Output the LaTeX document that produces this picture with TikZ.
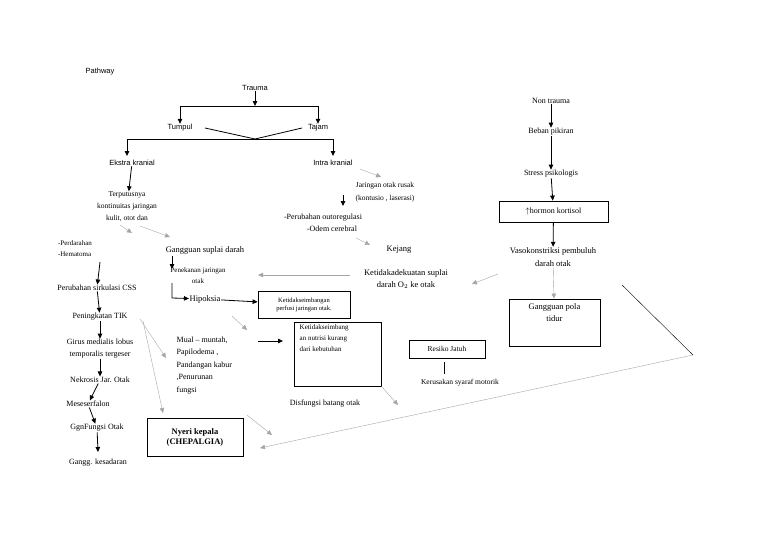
\documentclass[tikz,border=0pt]{standalone}
\usepackage{fontspec}
\setmainfont{Liberation Serif}
\newfontfamily\sansf{Liberation Sans}
\usetikzlibrary{arrows.meta}
\begin{document}
\begin{tikzpicture}[x=1pt,y=-1pt,
  t/.style={inner sep=0.5pt,font=\fontsize{8}{10}\selectfont,align=center},
  s/.style={inner sep=0.5pt,font=\sansf\fontsize{7.5}{9}\selectfont,align=center},
  bx/.style={draw,thick,inner sep=2pt,font=\fontsize{7.5}{9}\selectfont,align=center},
  a/.style={-{Triangle[length=5pt,width=4.5pt]},thick},
  g/.style={-{Triangle[length=5pt,width=4.5pt]},gray!70},
  l/.style={thick}]
\useasboundingbox (0,0) rectangle (768,543);
\node[s] (pw) at (100,72) {Pathway};
\node[s] (tr) at (255,88) {Trauma};
\coordinate (tb) at (255,106);
\draw[a] (tr) -- (tb);
\draw[l] (180,106) coordinate (h1) -- (318,106) coordinate (h2);
\node[s] (tu) at (180,128) {Tumpul};
\node[s] (ta) at (318,128) {Tajam};
\draw[a] (h1) -- (tu); \draw[a] (h2) -- (ta);
\coordinate (v) at (255,139);
\draw[l] (205,128) -- (v) -- (302,128);
\draw[l] (127,139) coordinate (h3) -- (333,139) coordinate (h4);
\node[s] (ek) at (132,163) {Ekstra kranial};
\node[s] (ik) at (333,163) {Intra kranial};
\draw[a] (h3) -- (127,156); \draw[a] (h4) -- (333,156);
\node[t,font=\fontsize{7.5}{12}\selectfont] (tp) at (127,207) {Terputusnya\\kontinuitas jaringan\\kulit, otot dan};
\draw[a] (ek) -- (tp);
\node[t,font=\fontsize{7}{11}\selectfont,align=left] (pd) at (75,249) {-Perdarahan\\-Hematoma};
\node[t,font=\fontsize{8.5}{10}\selectfont] (gs) at (205,250) {Gangguan suplai darah};
\draw[g] (120,225) -- (132,233);
\draw[g] (140,226) -- (170,237);
\node[t,font=\fontsize{7}{11}\selectfont] (pj) at (198,276) {Penekanan jaringan\\otak};
\draw[a] (172,256) -- (172,269);
\node[t] (ps) at (97,288) {Perubahan sirkulasi CSS};
\draw[a] (100,262) -- (ps);
\node[t] (ptik) at (100,317) {Peningkatan TIK};
\draw[a] (ps) -- (ptik);
\node[t,font=\fontsize{8}{12}\selectfont] (gm) at (100,349) {Girus medialis lobus\\temporalis tergeser};
\draw[a] (ptik) -- (gm);
\node[t] (nk) at (100,380) {Nekrosis Jar. Otak};
\draw[a] (gm) -- (nk);
\node[t] (ms) at (88,404) {Meseserfalon};
\draw[a] (nk) -- (ms);
\node[t] (gf) at (97,428) {GgnFungsi Otak};
\draw[a] (ms) -- (gf);
\node[t] (gk) at (98,463) {Gangg. kesadaran};
\draw[a] (gf) -- (98,452);
\node[t,font=\fontsize{8.5}{10}\selectfont] (hp) at (205,299) {Hipoksia};
\draw[a] (172,283) -- (172,298) -- (hp);
\node[bx,minimum width=92pt,minimum height=27pt,font=\fontsize{6.5}{8}\selectfont] (kp) at (304,304.5) {Ketidakseimbangan\\perfusi jaringan otak.};
\draw[a] (hp) -- (kp);
\node[t,align=left,anchor=north west,font=\fontsize{8}{12.5}\selectfont] (mu) at (176,336) {Mual -- muntah,\\Papilodema ,\\Pandangan kabur\\,Penurunan\\fungsi};
\draw[g] (232,316) -- (247,330);
\node[bx,minimum width=87pt,minimum height=64pt] (kn) at (337.5,354) {};
\node[t,font=\fontsize{7}{11}\selectfont,align=left,anchor=north west] (knt) at (299,324) {Ketidakseimbang\\an nutrisi kurang\\dari kebutuhan};
\draw[a] (258,341) -- (283,341);
\draw[g] (140,319) -- (166,358);
\draw[g] (143,321) -- (163,413);
\node[bx,minimum width=96pt,minimum height=38pt,font=\bfseries\fontsize{8.5}{10}\selectfont] (ny) at (195,437) {Nyeri kepala\\(CHEPALGIA)};
\draw[g] (247,415) -- (272,435);
\node[t] (db) at (325,404) {Disfungsi batang otak};
\draw[g] (kn.south east) -- (398,405);
\draw[g] (360,169) -- (381,177);
\node[t,font=\fontsize{7.5}{13}\selectfont] (jo) at (385,192) {Jaringan otak rusak\\(kontusio , laserasi)};
\draw[a] (343,195) -- (343,206);
\node[t,font=\fontsize{8}{11.5}\selectfont] (po) at (323,223) {-Perubahan outoregulasi\\\hspace*{18pt}-Odem cerebral};
\draw[g] (356,238) -- (370,245);
\node[t,font=\fontsize{8.5}{10}\selectfont] (kj) at (399,250) {Kejang};
\node[t,font=\fontsize{8.5}{12.5}\selectfont] (kd) at (406,279) {Ketidakadekuatan suplai\\darah O$_2$ ke otak};
\draw[g] (350,275) -- (258,275);
\node[t] (nt) at (551,101) {Non trauma};
\node[t] (bp) at (551,132) {Beban pikiran};
\node[t] (sp) at (551,174) {Stress psikologis};
\node[bx,minimum width=109pt,minimum height=21pt,font=\fontsize{8}{10}\selectfont] (hk) at (553.5,211.5) {$\uparrow$hormon kortisol};
\node[t,font=\fontsize{8.5}{13}\selectfont] (vk) at (553,257) {Vasokonstriksi pembuluh\\darah otak};
\node[bx,minimum width=91pt,minimum height=47pt] (gp) at (554.5,322.5) {};
\node[t,font=\fontsize{8.5}{12}\selectfont] (gpt) at (554.5,313) {Gangguan pola\\tidur};
\draw[a] (nt) -- (bp); \draw[a] (bp) -- (sp); \draw[a] (sp) -- (hk); \draw[a] (hk) -- (vk);
\draw[g] (vk) -- (gp);
\draw[g] (498,274) -- (472,284);
\node[bx,minimum width=76pt,minimum height=18pt,font=\fontsize{7.5}{9}\selectfont] (rj) at (447,349) {Resiko Jatuh};
\node[t,font=\fontsize{7.5}{9}\selectfont] (ks) at (460,383) {Kerusakan syaraf motorik};
\draw[l] (444,362) -- (444,374);
\coordinate (c1) at (622,285);
\coordinate (c2) at (693,355);
\draw (c1) -- (c2);
\draw[g] (c2) -- (260,448);
\end{tikzpicture}
\end{document}
